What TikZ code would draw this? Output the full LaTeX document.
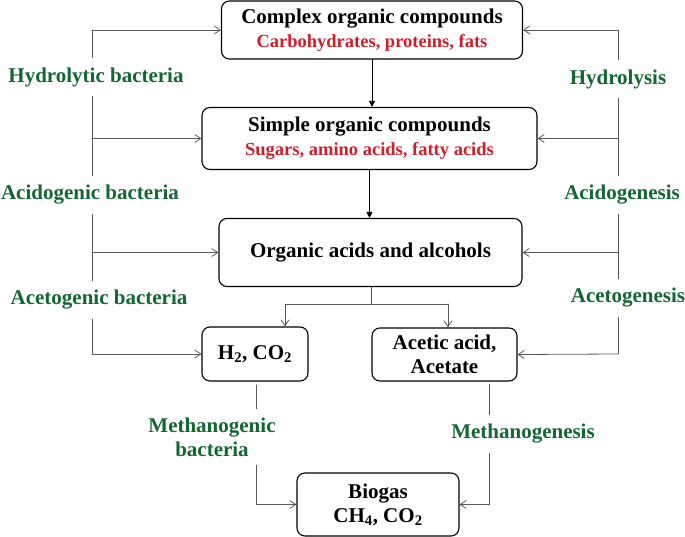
\documentclass[tikz,border=0pt]{standalone}
\usepackage{fontspec}
\setmainfont{Liberation Serif}
\usetikzlibrary{arrows.meta}
\definecolor{qqzzqq}{rgb}{0.08,0.40,0.20}
\definecolor{dcqqtt}{rgb}{0.80,0.12,0.18}
\definecolor{wvwvwv}{rgb}{0.35,0.35,0.35}
\tikzset{
  stage/.style={draw,rounded corners=8pt,line width=1.1pt,align=center,inner sep=0pt,
    font=\bfseries\fontsize{21}{24}\selectfont},
  agent/.style={fill=white,text=qqzzqq,align=center,inner xsep=2pt,inner ysep=9pt,
    font=\bfseries\fontsize{21}{24}\selectfont},
  feedarrow/.style={draw=wvwvwv,line width=0.8pt,-{Straight Barb[length=6pt,width=8pt]}},
  feedline/.style={draw=wvwvwv,line width=0.8pt},
  mainarrow/.style={line width=0.8pt,-{Triangle[length=6pt,width=6pt]}},
}
\newcommand{\redline}[1]{{\color{dcqqtt}\fontsize{18.5}{22}\selectfont #1}}
\begin{document}
\begin{tikzpicture}[x=1pt,y=-1pt,line cap=round,line join=round]
  \useasboundingbox (0,0) rectangle (685,537);
  % stages
  \node[stage,minimum width=301pt,minimum height=58pt] (complex) at (372,30)
    {Complex organic compounds\\\redline{Carbohydrates, proteins, fats}};
  \node[stage,minimum width=335pt,minimum height=62pt] (simple) at (369.5,138.5)
    {Simple organic compounds\\\redline{Sugars, amino acids, fatty acids}};
  \node[stage,minimum width=303pt,minimum height=68pt] (acids) at (370.5,252.5)
    {Organic acids and alcohols};
  \node[stage,minimum width=106pt,minimum height=54pt] (htwo) at (255,354)
    {H\textsubscript{2}, CO\textsubscript{2}};
  \node[stage,minimum width=145pt,minimum height=53pt] (acetic) at (444.5,354.5)
    {Acetic acid,\\Acetate};
  \node[stage,minimum width=162pt,minimum height=63pt] (biogas) at (378,504.5)
    {Biogas\\CH\textsubscript{4}, CO\textsubscript{2}};
  % main flow
  \draw[mainarrow] (complex.south) -- (complex.south |- simple.north);
  \draw[mainarrow] (simple.south) -- (simple.south |- acids.north);
  \coordinate (split) at (371,304);
  \coordinate (sl) at (285,304);
  \coordinate (sr) at (448,304);
  \draw[feedline] (acids.south -| split) -- (split);
  \draw[feedline] (sl) -- (sr);
  \draw[feedarrow] (sl) -- (sl |- htwo.north);
  \draw[feedarrow] (sr) -- (sr |- acetic.north);
  % left side
  \coordinate (ltop) at (92,30);
  \coordinate (lbot) at (92,354);
  \draw[feedline] (ltop) -- (lbot);
  \draw[feedarrow] (ltop) -- (complex.west);
  \draw[feedarrow] (simple.west -| ltop) -- (simple.west);
  \draw[feedarrow] (acids.west -| ltop) -- (acids.west);
  \draw[feedarrow] (lbot) -- (htwo.west);
  % right side
  \coordinate (rtop) at (618,30);
  \coordinate (rbot) at (618,354);
  \draw[feedline] (rtop) -- (rbot);
  \draw[feedarrow] (rtop) -- (complex.east);
  \draw[feedarrow] (simple.east -| rtop) -- (simple.east);
  \draw[feedarrow] (acids.east -| rtop) -- (acids.east);
  \draw[feedarrow] (rbot) -- (acetic.east);
  % methanogenesis
  \coordinate (mh) at (256,385);
  \coordinate (ma) at (489,384);
  \draw[feedarrow] (mh) -- (mh |- biogas.west) -- (biogas.west);
  \draw[feedarrow] (ma) -- (ma |- biogas.east) -- (biogas.east);
  % labels
  \node[agent] (hydbact) at (96,77) {Hydrolytic bacteria};
  \node[agent] (acidbact) at (90,195) {Acidogenic bacteria};
  \node[agent] (acetbact) at (99,300) {Acetogenic bacteria};
  \node[agent] (hydrolysis) at (618,79) {Hydrolysis};
  \node[agent] (acidogenesis) at (622,195) {Acidogenesis};
  \node[agent] (acetogenesis) at (628,298) {Acetogenesis};
  \node[agent] (methbact) at (212,437) {Methanogenic\\bacteria};
  \node[agent] (methanogenesis) at (523,434) {Methanogenesis};
\end{tikzpicture}
\end{document}
